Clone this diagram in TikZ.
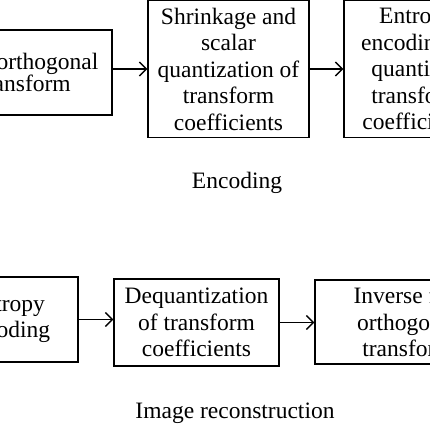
\documentclass[tikz,border=0pt]{standalone}
\usepackage{fontspec}
\setmainfont{Liberation Serif}
\usetikzlibrary{arrows.meta}

\tikzset{
    block/.style={draw, line width=1.4pt, align=center, inner sep=0pt,
        font=\fontsize{23.5}{26.5}\selectfont},
    link/.style={line width=1.4pt, -{Straight Barb[length=7pt, width=14pt, line width=1.4pt]}},
    caption/.style={font=\fontsize{23.5}{26.5}\selectfont}
}

\begin{document}
\begin{tikzpicture}[x=1pt, y=-1pt]
        \useasboundingbox (0, 0) rectangle (430, 430);
        \clip (0, 0) rectangle (430, 430);

        % Encoding row
        \node[block, minimum width=174pt, minimum height=85pt,
            font=\fontsize{23.5}{21}\selectfont] (fwd) at (25, 72.5) {Fast orthogonal\\transform};
        \node[block, minimum width=161pt, minimum height=137pt] (shrink) at (228.5, 69) {Shrinkage and\\scalar\\quantization of\\transform\\coefficients};
        \node[block, minimum width=146pt, minimum height=137pt] (enc) at (417, 69) {Entropy\\encoding of\\quantized\\transform\\coefficients};
        \node[caption] (enclabel) at (237, 183) {Encoding};

        % Reconstruction row
        \node[block, minimum width=142pt, minimum height=85pt] (dec) at (7, 319.5) {Entropy\\decoding};
        \node[block, minimum width=165pt, minimum height=87pt] (deq) at (196.5, 322.5) {Dequantization\\of transform\\coefficients};
        \node[block, minimum width=186pt, minimum height=84pt] (inv) at (408, 322) {Inverse fast\\orthogonal\\transform};
        \node[caption] (reclabel) at (235, 413) {Image reconstruction};

        % Draw arrows
        \draw[link] (fwd.east |- shrink) -- (shrink.west);
        \draw[link] (shrink.east) -- (enc.west |- shrink);
        \draw[link] (dec.east) -- (dec.east -| deq.west);
        \draw[link] (deq.east) -- (deq.east -| inv.west);
    \end{tikzpicture}
\end{document}
